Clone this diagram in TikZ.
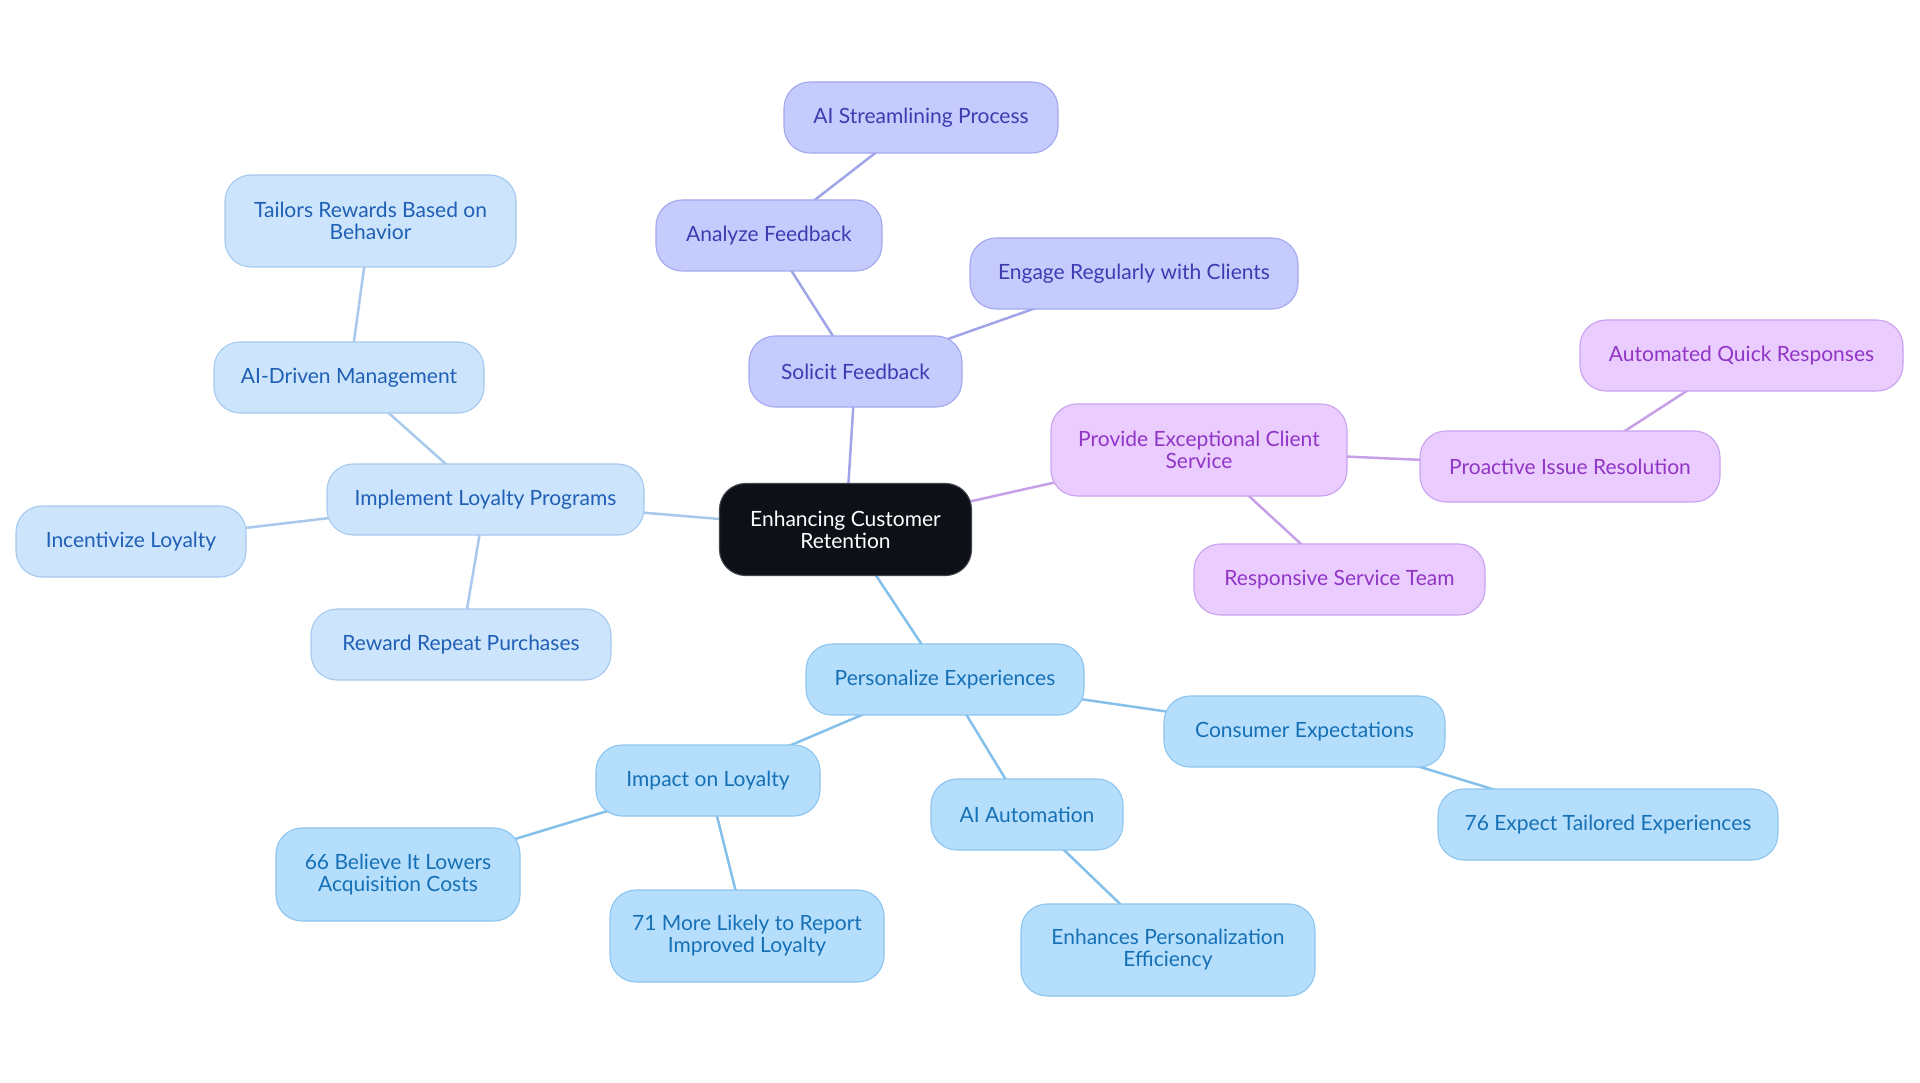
\documentclass[tikz,border=0pt]{standalone}
\usepackage{fontspec}
\setmainfont{Lato}
\usetikzlibrary{backgrounds}
\definecolor{ctrFill}{HTML}{0D1117}
\definecolor{ctrLine}{HTML}{40454C}
\definecolor{purFill}{HTML}{EACCFE}
\definecolor{purLine}{HTML}{C9A2F0}
\definecolor{purText}{HTML}{9035C6}
\definecolor{purEdge}{HTML}{C69FE6}
\definecolor{indFill}{HTML}{C6CBFD}
\definecolor{indLine}{HTML}{A2A8EF}
\definecolor{indText}{HTML}{3A3CB0}
\definecolor{indEdge}{HTML}{A0A5E8}
\definecolor{lbFill}{HTML}{CDE5FC}
\definecolor{lbLine}{HTML}{A6C9EF}
\definecolor{lbText}{HTML}{1F5FB5}
\definecolor{lbEdge}{HTML}{A8C9EC}
\definecolor{skFill}{HTML}{B5DEFC}
\definecolor{skLine}{HTML}{8DC5EE}
\definecolor{skText}{HTML}{1570B5}
\definecolor{skEdge}{HTML}{84C0EA}
\tikzset{
  mm/.style={rectangle, rounded corners=26pt, inner sep=0pt, align=center,
    font=\fontsize{21}{22}\selectfont, line width=1.1pt},
  sz/.style n args={2}{minimum width=#1pt, minimum height=#2pt},
  ctr/.style={mm, fill=ctrFill, draw=ctrLine, text=white},
  pur/.style={mm, fill=purFill, draw=purLine, text=purText},
  ind/.style={mm, fill=indFill, draw=indLine, text=indText},
  lb/.style={mm, fill=lbFill, draw=lbLine, text=lbText},
  sk/.style={mm, fill=skFill, draw=skLine, text=skText},
  edge/.style={line width=2.5pt},
}
\begin{document}
\begin{tikzpicture}[x=1pt,y=-1pt]
\useasboundingbox (0,0) rectangle (1920,1083);
% center
\node[ctr, sz={252}{92}] (ctr) at (845.5,529.5) {Enhancing Customer\\Retention};
% indigo branch
\node[ind, sz={213}{71}] (soli) at (855.5,371.5) {Solicit Feedback};
\node[ind, sz={226}{71}] (anal) at (769,235.5) {Analyze Feedback};
\node[ind, sz={274}{71}] (stre) at (921,117.5) {AI Streamlining Process};
\node[ind, sz={328}{71}] (enga) at (1134,273.5) {Engage Regularly with Clients};
% purple branch
\node[pur, sz={296}{92}] (pecs) at (1199,450) {Provide Exceptional Client\\Service};
\node[pur, sz={300}{71}] (proa) at (1570,466.5) {Proactive Issue Resolution};
\node[pur, sz={323}{71}] (auto) at (1741.5,355.5) {Automated Quick Responses};
\node[pur, sz={291}{71}] (resp) at (1339.5,579.5) {Responsive Service Team};
% light blue branch
\node[lb, sz={317}{71}] (impl) at (485.5,499.5) {Implement Loyalty Programs};
\node[lb, sz={270}{71}] (aidr) at (349,377.5) {AI-Driven Management};
\node[lb, sz={291}{92}] (tail) at (370.5,221) {Tailors Rewards Based on\\Behavior};
\node[lb, sz={230}{71}] (ince) at (131,541.5) {Incentivize Loyalty};
\node[lb, sz={300}{71}] (rewa) at (461,644.5) {Reward Repeat Purchases};
% sky branch
\node[sk, sz={278}{71}] (pers) at (945,679.5) {Personalize Experiences};
\node[sk, sz={281}{71}] (cons) at (1304.5,731.5) {Consumer Expectations};
\node[sk, sz={340}{71}] (e76) at (1608,824.5) {76 Expect Tailored Experiences};
\node[sk, sz={224}{71}] (impa) at (708,780.5) {Impact on Loyalty};
\node[sk, sz={192}{71}] (aiau) at (1027,814.5) {AI Automation};
\node[sk, sz={294}{92}] (enha) at (1168,950) {Enhances Personalization\\Efficiency};
\node[sk, sz={244}{93}] (b66) at (398,874.5) {66 Believe It Lowers\\Acquisition Costs};
\node[sk, sz={274}{92}] (m71) at (747,936) {71 More Likely to Report\\Improved Loyalty};
\begin{scope}[on background layer]
  \draw[edge, indEdge] (ctr.center) -- (soli.center);
  \draw[edge, indEdge] (soli.center) -- (anal.center);
  \draw[edge, indEdge] (anal.center) -- (stre.center);
  \draw[edge, indEdge] (soli.center) -- (enga.center);
  \draw[edge, purEdge] (ctr.center) -- (pecs.center);
  \draw[edge, purEdge] (pecs.center) -- (proa.center);
  \draw[edge, purEdge] (proa.center) -- (auto.center);
  \draw[edge, purEdge] (pecs.center) -- (resp.center);
  \draw[edge, lbEdge] (ctr.center) -- (impl.center);
  \draw[edge, lbEdge] (impl.center) -- (aidr.center);
  \draw[edge, lbEdge] (aidr.center) -- (tail.center);
  \draw[edge, lbEdge] (impl.center) -- (ince.center);
  \draw[edge, lbEdge] (impl.center) -- (rewa.center);
  \draw[edge, skEdge] (ctr.center) -- (pers.center);
  \draw[edge, skEdge] (pers.center) -- (cons.center);
  \draw[edge, skEdge] (cons.center) -- (e76.center);
  \draw[edge, skEdge] (pers.center) -- (impa.center);
  \draw[edge, skEdge] (impa.center) -- (b66.center);
  \draw[edge, skEdge] (impa.center) -- (m71.center);
  \draw[edge, skEdge] (pers.center) -- (aiau.center);
  \draw[edge, skEdge] (aiau.center) -- (enha.center);
\end{scope}
\end{tikzpicture}
\end{document}
